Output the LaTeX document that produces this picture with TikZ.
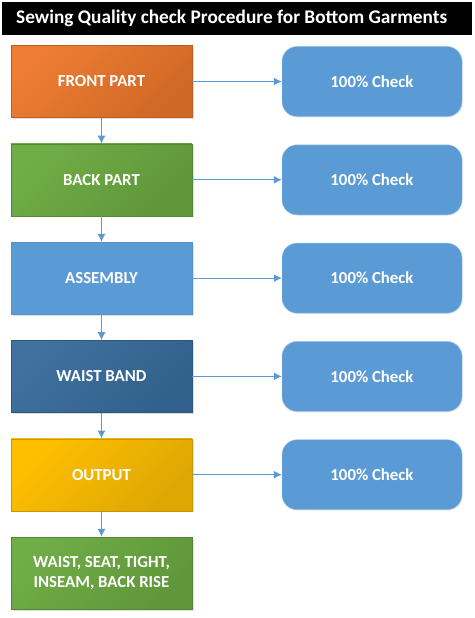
\documentclass[tikz,border=0pt]{standalone}
\usepackage{fontspec}
\setmainfont{Carlito}
\usetikzlibrary{shapes}
\usetikzlibrary{positioning}
\usetikzlibrary{arrows.meta}
\usetikzlibrary{shadows}
\definecolor{chkblue}{HTML}{5B9BD5}
\definecolor{orgl}{HTML}{EE7D33}
\definecolor{orgd}{HTML}{CF6826}
\definecolor{grnl}{HTML}{70AD47}
\definecolor{grnd}{HTML}{5F963A}
\definecolor{dbll}{HTML}{40719F}
\definecolor{dbld}{HTML}{32608C}
\definecolor{yell}{HTML}{FFBF00}
\definecolor{yeld}{HTML}{DDA704}
\tikzset{
    titlebar/.style = {rectangle, fill=black, text=white, minimum height=33pt, minimum width=470pt},
    titletxt/.style = {anchor=west, text=white, inner sep=0pt, font=\fontsize{19.3}{20}\selectfont\bfseries},
    mynode/.style = {rectangle, thin, minimum width=181pt, minimum height=72pt, align=center, text=white, font=\fontsize{16.8}{20}\selectfont\bfseries, drop shadow={opacity=0.25, shadow xshift=1.5pt, shadow yshift=-1.5pt}},
    mynodeo/.style = {mynode, draw=orgd!90!black, top color=orgl, bottom color=orgd, shading angle=45},
    mynodeg/.style = {mynode, draw=grnd!90!black, top color=grnl, bottom color=grnd, shading angle=45},
    mynodeb/.style = {mynode, draw=chkblue!95!black, fill=chkblue},
    mynoded/.style = {mynode, draw=dbld!90!black, top color=dbll, bottom color=dbld, shading angle=45},
    mynodey/.style = {mynode, draw=yeld!90!black, top color=yell, bottom color=yeld, shading angle=45},
    checknode/.style = {rectangle, rounded corners=15pt, fill=chkblue, draw=chkblue!60!white, minimum width=180pt, minimum height=70pt, text=white, font=\fontsize{16.8}{20}\selectfont\bfseries, drop shadow={opacity=0.15, shadow xshift=1pt, shadow yshift=-1pt}},
    edgen/.style = {-{Latex[length=8pt,width=8pt]}, line width=1pt, chkblue}
}

\begin{document}
\begin{tikzpicture}[x=1pt,y=-1pt]
\useasboundingbox (0,0) rectangle (474,618);
\node[titlebar] at (237,18.5) (title) {};
\node[titletxt] at (16,18.5) (titletext) {Sewing Quality check Procedure for Bottom Garments};
% process parts
\node[mynodeo] at (101.5, 81.5) (front) {FRONT PART};
\node[mynodeg] at (101.5,179.8) (back) {BACK PART};
\node[mynodeb] at (101.5,278.1) (assembly) {ASSEMBLY};
\node[mynoded] at (101.5,376.4) (waist) {WAIST BAND};
\node[mynodey] at (101.5,474.7) (output) {OUTPUT};
\node[mynodeg] at (101.5,573.0) (measure) {WAIST, SEAT, TIGHT,\\INSEAM, BACK RISE};
% checks
\node[checknode] at (372, 81.5) (c1) {100\% Check};
\node[checknode] at (372,179.8) (c2) {100\% Check};
\node[checknode] at (372,278.1) (c3) {100\% Check};
\node[checknode] at (372,376.4) (c4) {100\% Check};
\node[checknode] at (372,474.7) (c5) {100\% Check};
% flow down
\draw[edgen] (front) -- (back);
\draw[edgen] (back) -- (assembly);
\draw[edgen] (assembly) -- (waist);
\draw[edgen] (waist) -- (output);
\draw[edgen] (output) -- (measure);
% flow right
\draw[edgen] (front) -- (c1);
\draw[edgen] (back) -- (c2);
\draw[edgen] (assembly) -- (c3);
\draw[edgen] (waist) -- (c4);
\draw[edgen] (output) -- (c5);
\end{tikzpicture}
\end{document}
